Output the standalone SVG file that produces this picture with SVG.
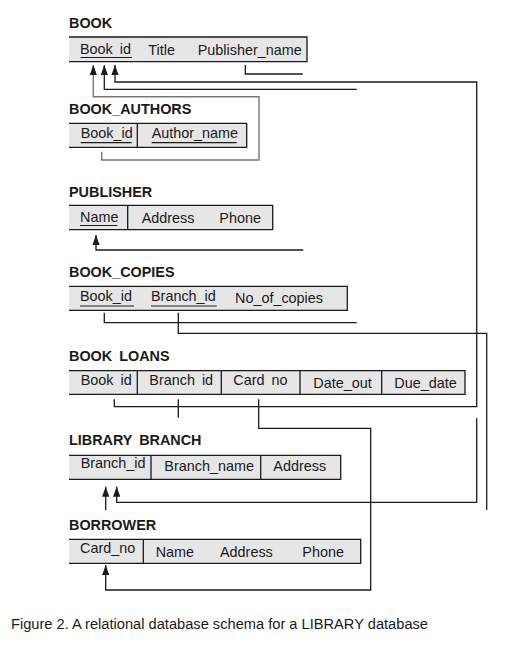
<svg xmlns="http://www.w3.org/2000/svg" width="515" height="661" viewBox="0 0 515 661">
<style>
.bg{fill:#e6e6e6;stroke:none}
.bd{fill:none;stroke:#1a1a1a;stroke-width:1.3}
.h{font-family:"Liberation Sans",Arial,sans-serif;font-weight:bold;font-size:14.4px;fill:#1a1a1a}
.f{font-family:"Liberation Sans",Arial,sans-serif;font-size:14.4px;fill:#1a1a1a}
.w{word-spacing:3px}
.u{stroke:#1a1a1a;stroke-width:1.1}
.c{fill:none;stroke:#1a1a1a;stroke-width:1.3}
.g{fill:none;stroke:#777;stroke-width:1.4}
.cap{font-family:"Liberation Sans",Arial,sans-serif;font-size:15.5px;fill:#1a1a1a}
</style>
<defs>
<marker id="ah" markerUnits="userSpaceOnUse" markerWidth="10" markerHeight="7.4" refX="10" refY="3.6" orient="auto">
<path d="M0,0 L10,3.6 L0,7.2 z" fill="#1a1a1a"/>
</marker>
</defs>
<rect width="515" height="661" fill="#fff"/>

<g id="book">
<text class="h" x="69" y="28.3">BOOK</text>
<rect class="bg" x="69" y="37" width="238" height="24.7"/>
<path class="bd" d="M69,37 H307 V61.7 H69"/>
<text class="f w" x="80" y="53.5">Book id</text>
<line class="u" x1="80.5" y1="57.5" x2="132" y2="57.5"/>
<text class="f" x="148.3" y="55">Title</text>
<text class="f" x="197.7" y="55">Publisher_name</text>
</g>

<g id="book_authors">
<text class="h" x="69" y="114">BOOK_AUTHORS</text>
<rect class="bg" x="69" y="123.3" width="177.7" height="24"/>
<path class="bd" d="M69,123.3 H246.7 V147.3 H69 M137.3,123.3 V147.3"/>
<text class="f" x="80.7" y="138.3">Book_id</text>
<line class="u" x1="80.7" y1="142.6" x2="131.7" y2="142.6"/>
<text class="f" x="151.7" y="138.3">Author_name</text>
<line class="u" x1="151.7" y1="142.6" x2="236.7" y2="142.6"/>
</g>

<g id="publisher">
<text class="h" x="69" y="196.7">PUBLISHER</text>
<rect class="bg" x="69" y="205.3" width="203.7" height="24.4"/>
<path class="bd" d="M69,205.3 H272.7 V229.7 H69 M127.7,205.3 V229.7"/>
<text class="f" x="80" y="222.2">Name</text>
<line class="u" x1="80" y1="225.5" x2="117.3" y2="225.5"/>
<text class="f" x="141.7" y="223.3">Address</text>
<text class="f" x="219.3" y="223.3">Phone</text>
</g>

<g id="book_copies">
<text class="h" x="69" y="276.7">BOOK_COPIES</text>
<rect class="bg" x="69" y="286.3" width="278.3" height="24"/>
<path class="bd" d="M69,286.3 H347.3 V310.3 H69"/>
<text class="f" x="80" y="300.7">Book_id</text>
<line class="u" x1="80" y1="306" x2="134" y2="306"/>
<text class="f" x="151" y="300.7">Branch_id</text>
<line class="u" x1="151" y1="306" x2="216.7" y2="306"/>
<text class="f" x="235" y="303.3">No_of_copies</text>
</g>

<g id="book_loans">
<text class="h w" x="69" y="360.7">BOOK LOANS</text>
<rect class="bg" x="69" y="370.7" width="396" height="23.6"/>
<path class="bd" d="M69,370.7 H465 V394.3 H69 M137.3,370.7 V394.3 M221.3,370.7 V394.3 M300,370.7 V394.3 M381.7,370.7 V394.3"/>
<text class="f w" x="80.7" y="385">Book id</text>
<text class="f w" x="149.3" y="385">Branch id</text>
<text class="f w" x="233.3" y="385">Card no</text>
<text class="f" x="313.3" y="387.7">Date_out</text>
<text class="f" x="394.3" y="387.7">Due_date</text>
</g>

<g id="library_branch">
<text class="h w" x="69" y="445">LIBRARY BRANCH</text>
<rect class="bg" x="69" y="455.3" width="271.7" height="24"/>
<path class="bd" d="M69,455.3 H340.7 V479.3 H69 M151,455.3 V479.3 M260.7,455.3 V479.3"/>
<text class="f" x="80.7" y="468.3">Branch_id</text>
<text class="f" x="164.3" y="470.7">Branch_name</text>
<text class="f" x="273.3" y="470.7">Address</text>
</g>

<g id="borrower">
<text class="h" x="69" y="530">BORROWER</text>
<rect class="bg" x="69" y="539.3" width="291.7" height="24"/>
<path class="bd" d="M69,539.3 H360.7 V563.3 H69 M143.3,539.3 V563.3"/>
<text class="f" x="80" y="552.7">Card_no</text>
<text class="f" x="155.7" y="556.7">Name</text>
<text class="f" x="220" y="556.7">Address</text>
<text class="f" x="302.3" y="556.7">Phone</text>
</g>

<g id="connectors">
<path class="g" d="M101.7,151.7 V160 H259 V96.7 H93.3 V65" marker-end="url(#ah)"/>
<path class="c" d="M356.7,89.3 H104.3 V65" marker-end="url(#ah)"/>
<path class="c" d="M114.3,399.3 V406.7 H476.7 V82 H115 V65" marker-end="url(#ah)"/>
<path class="c" d="M245.3,65 V74 H302.7"/>
<path class="c" d="M303.3,250 H96 V235" marker-end="url(#ah)"/>
<path class="c" d="M104.3,312.7 V322.7 H356.7"/>
<path class="c" d="M178.3,312.7 V333.3 H486.7 V510"/>
<path class="c" d="M178.3,399.3 V417.7"/>
<path class="c" d="M258.7,399.3 V428.3 H370.7 V590 H105.7 V565" marker-end="url(#ah)"/>
<path class="c" d="M105.7,510 V486.7" marker-end="url(#ah)"/>
<path class="c" d="M476.7,418.3 V502.3 H116.7 V486.7" marker-end="url(#ah)"/>
</g>

<text class="cap" x="11" y="629.3" textLength="417" lengthAdjust="spacingAndGlyphs">Figure 2. A relational database schema for a LIBRARY database</text>
</svg>
